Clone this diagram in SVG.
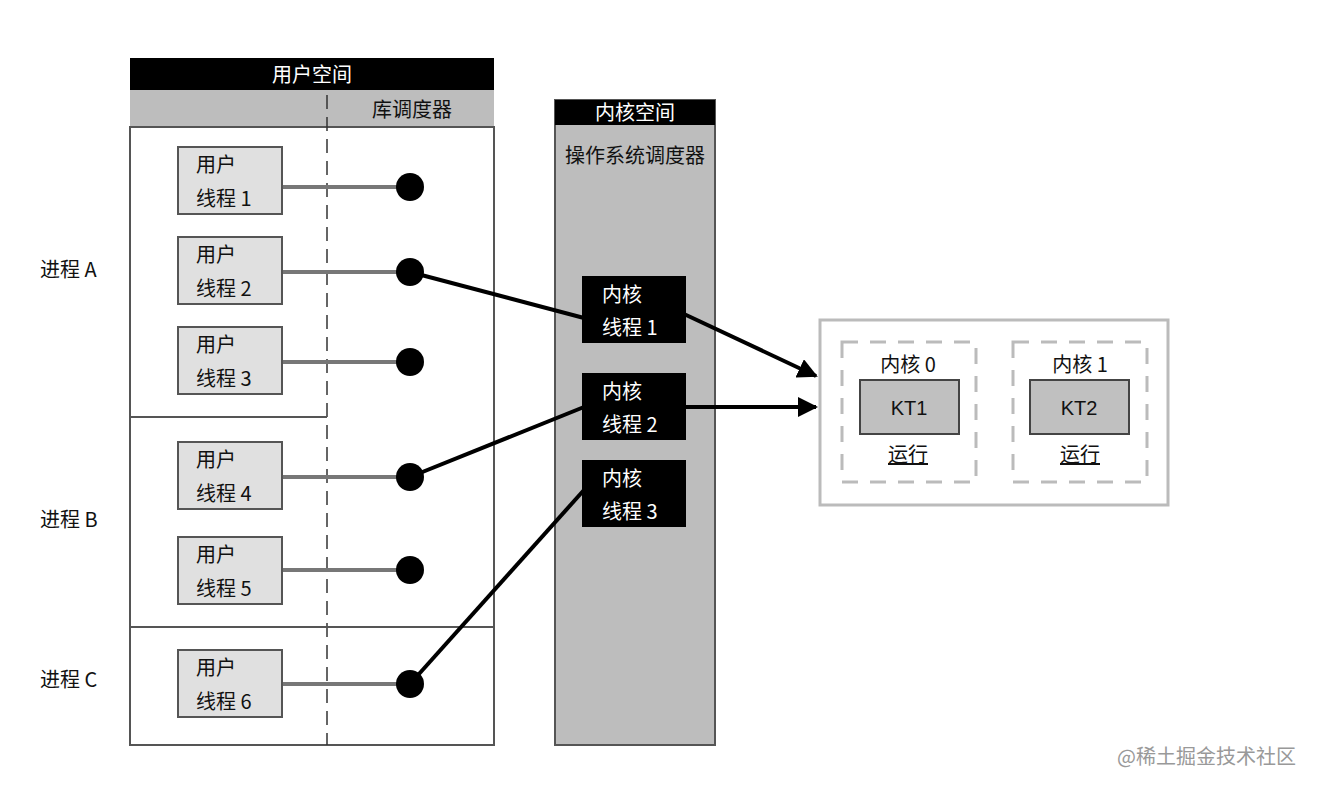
<svg xmlns="http://www.w3.org/2000/svg" width="1318" height="790" viewBox="0 0 1318 790">
<defs>
<style>
text{font-family:"Noto Sans CJK SC","Liberation Sans",sans-serif;font-size:20px;fill:#111}
.w{fill:#fff}
.ut{fill:#e0e0e0;stroke:#555;stroke-width:2}
.kt{fill:#000}
.gl{stroke:#777;stroke-width:4}
.bl{stroke:#000;stroke-width:4;fill:none}
.dot{fill:#000}
</style>
<marker id="ar" viewBox="0 0 10 10" refX="9" refY="5" markerWidth="5" markerHeight="5" orient="auto"><path d="M0,0L10,5L0,10z" fill="#000"/></marker>
</defs>
<rect width="1318" height="790" fill="#fff"/>
<g id="userspace">
<rect x="130" y="58" width="364" height="32" fill="#000"/>
<text x="312" y="82" text-anchor="middle" class="w">用户空间</text>
<rect x="130" y="90" width="364" height="37" fill="#bdbdbd"/>
<text x="412" y="117" text-anchor="middle">库调度器</text>
<rect x="130" y="127" width="364" height="618" fill="none" stroke="#555" stroke-width="2"/>
<line x1="327" y1="95" x2="327" y2="745" stroke="#333" stroke-width="1.5" stroke-dasharray="14,8"/>
<line x1="130" y1="417" x2="327" y2="417" stroke="#555" stroke-width="2"/>
<line x1="130" y1="627" x2="494" y2="627" stroke="#555" stroke-width="2"/>
</g>
<g id="procs">
<text x="40" y="277">进程 A</text>
<text x="40" y="527">进程 B</text>
<text x="40" y="687">进程 C</text>
</g>
<g id="u1"><line class="gl" x1="282" y1="187" x2="410" y2="187"/><rect class="ut" x="178" y="147" width="104" height="67"/><text x="196" y="172">用户</text><text x="196" y="206">线程 1</text><circle class="dot" cx="410" cy="187" r="14"/></g>
<g id="u2"><line class="gl" x1="282" y1="272" x2="410" y2="272"/><rect class="ut" x="178" y="237" width="104" height="67"/><text x="196" y="262">用户</text><text x="196" y="296">线程 2</text><circle class="dot" cx="410" cy="272" r="14"/></g>
<g id="u3"><line class="gl" x1="282" y1="362" x2="410" y2="362"/><rect class="ut" x="178" y="327" width="104" height="67"/><text x="196" y="352">用户</text><text x="196" y="386">线程 3</text><circle class="dot" cx="410" cy="362" r="14"/></g>
<g id="u4"><line class="gl" x1="282" y1="477" x2="410" y2="477"/><rect class="ut" x="178" y="442" width="104" height="67"/><text x="196" y="467">用户</text><text x="196" y="501">线程 4</text><circle class="dot" cx="410" cy="477" r="14"/></g>
<g id="u5"><line class="gl" x1="282" y1="570" x2="410" y2="570"/><rect class="ut" x="178" y="537" width="104" height="67"/><text x="196" y="562">用户</text><text x="196" y="596">线程 5</text><circle class="dot" cx="410" cy="570" r="14"/></g>
<g id="u6"><line class="gl" x1="282" y1="684" x2="410" y2="684"/><rect class="ut" x="178" y="650" width="104" height="67"/><text x="196" y="675">用户</text><text x="196" y="709">线程 6</text><circle class="dot" cx="410" cy="684" r="14"/></g>
<g id="kernelspace">
<rect x="555" y="100" width="160" height="645" fill="#bdbdbd" stroke="#555" stroke-width="2"/>
<rect x="555" y="100" width="160" height="25" fill="#000"/>
<text x="635" y="120" text-anchor="middle" class="w">内核空间</text>
<text x="635" y="163" text-anchor="middle" font-size="19">操作系统调度器</text>
</g>
<g id="connectors">
<line class="bl" x1="410" y1="272" x2="584" y2="318"/>
<line class="bl" x1="410" y1="477" x2="584" y2="407"/>
<line class="bl" x1="410" y1="684" x2="584" y2="490"/>
<line class="bl" x1="684" y1="314" x2="816" y2="376" marker-end="url(#ar)"/>
<line class="bl" x1="684" y1="407" x2="816" y2="407" marker-end="url(#ar)"/>
</g>
<g id="k1"><rect class="kt" x="582" y="276" width="104" height="67"/><text x="602" y="302" class="w">内核</text><text x="602" y="335" class="w">线程 1</text></g>
<g id="k2"><rect class="kt" x="582" y="373" width="104" height="67"/><text x="602" y="399" class="w">内核</text><text x="602" y="432" class="w">线程 2</text></g>
<g id="k3"><rect class="kt" x="582" y="460" width="104" height="67"/><text x="602" y="486" class="w">内核</text><text x="602" y="519" class="w">线程 3</text></g>
<g id="cpu">
<rect x="820" y="320" width="348" height="185" fill="none" stroke="#bbb" stroke-width="3"/>
<rect x="842" y="342" width="134" height="140" fill="none" stroke="#bbb" stroke-width="3" stroke-dasharray="16,12"/>
<rect x="1013" y="342" width="134" height="140" fill="none" stroke="#bbb" stroke-width="3" stroke-dasharray="16,12"/>
<text x="908" y="372" text-anchor="middle">内核 0</text>
<text x="1080" y="372" text-anchor="middle">内核 1</text>
<rect x="860" y="380" width="99" height="54" fill="#c0c0c0" stroke="#444" stroke-width="2"/>
<rect x="1030" y="380" width="99" height="54" fill="#c0c0c0" stroke="#444" stroke-width="2"/>
<text x="909" y="415" text-anchor="middle" font-family="Liberation Sans,sans-serif" style="font-family:'Liberation Sans',sans-serif">KT1</text>
<text x="1079" y="415" text-anchor="middle" style="font-family:'Liberation Sans',sans-serif">KT2</text>
<text x="908" y="462" text-anchor="middle" text-decoration="underline">运行</text>
<text x="1080" y="462" text-anchor="middle" text-decoration="underline">运行</text>
</g>
<text x="1296" y="764" text-anchor="end" font-size="17" style="fill:#999">@稀土掘金技术社区</text>
</svg>
